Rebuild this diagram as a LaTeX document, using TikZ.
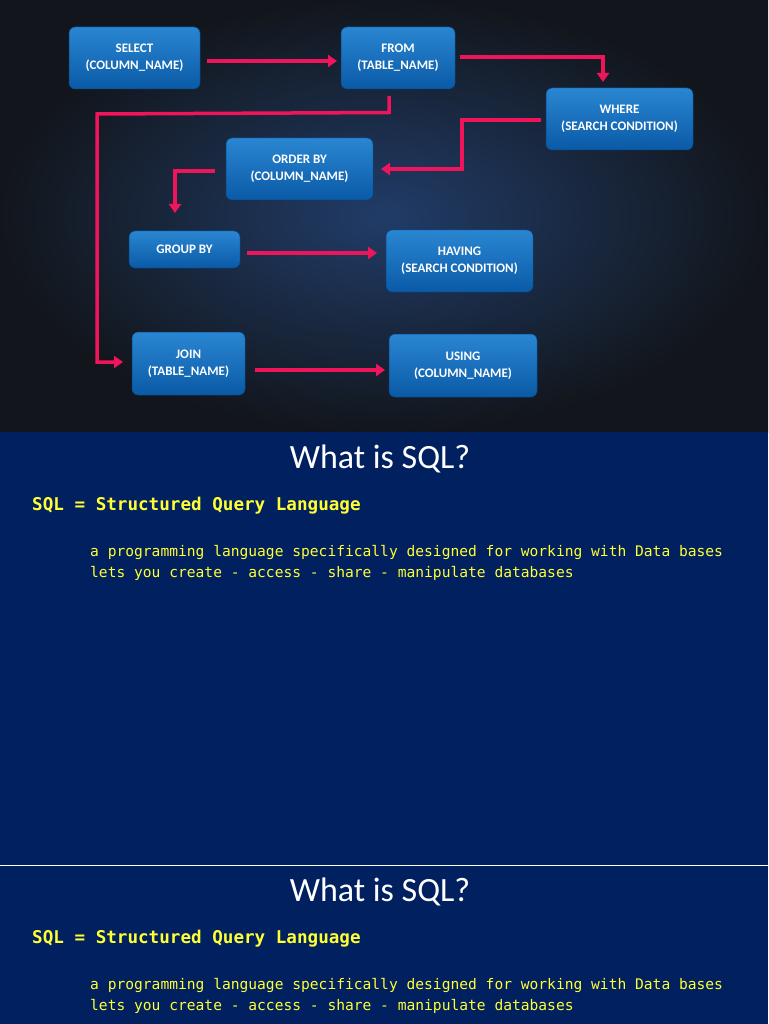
\documentclass[tikz,border=0pt]{standalone}
\usepackage{fontspec}
\setmainfont{Carlito}
\newfontfamily\monof{DejaVu Sans Mono}
\usetikzlibrary{arrows.meta}
\definecolor{pinkc}{HTML}{F0145A}
\definecolor{navy}{HTML}{002060}
\definecolor{boxtop}{HTML}{2A86D2}
\definecolor{boxbot}{HTML}{0A5AA6}
\definecolor{bgc}{HTML}{213C68}
\definecolor{bge}{HTML}{12161C}
\definecolor{ylw}{HTML}{FFFF33}
\tikzset{
  sqlbox/.style={rounded corners=6pt, top color=boxtop, bottom color=boxbot, draw=boxbot!80!black, line width=0.5pt},
  boxtxt/.style={text=white, font=\fontsize{13}{17}\selectfont\bfseries, align=center},
  conn/.style={draw=pinkc, line width=3.5pt, -{Triangle[length=9pt,width=12pt]}},
}
\begin{document}
\begin{tikzpicture}[x=1pt,y=-1pt]
\useasboundingbox (0,0) rectangle (768,1024);
\shade[inner color=bgc, outer color=bge] (0,0) rectangle (768,432);
\fill[navy] (0,432) rectangle (768,1024);
\draw[white, line width=1pt] (0,865.5) -- (768,865.5);
% boxes
\newcommand\mkbox[6]{\fill[sqlbox] (#2,#3) rectangle (#4,#5);
  \node[boxtxt] (#1) at ({(#2+#4)/2},{(#3+#5)/2}) {#6};}
\mkbox{sel}{69}{27}{200}{89}{SELECT\\(COLUMN\_NAME)}
\mkbox{from}{341}{27}{455}{89}{FROM\\(TABLE\_NAME)}
\mkbox{where}{546}{88}{693}{150}{WHERE\\(SEARCH CONDITION)}
\mkbox{ord}{226}{138}{373}{200}{ORDER BY\\(COLUMN\_NAME)}
\mkbox{grp}{129}{231}{240}{268}{GROUP BY}
\mkbox{hav}{386}{230}{533}{292}{HAVING\\(SEARCH CONDITION)}
\mkbox{join}{132}{332}{245}{395}{JOIN\\(TABLE\_NAME)}
\mkbox{using}{389}{334}{537}{397}{USING\\(COLUMN\_NAME)}
% connectors
\coordinate (a1) at (207,61); \coordinate (a2) at (337,61);
\draw[conn] (a1) -- (a2);
\coordinate (b1) at (460,57); \coordinate (b2) at (603,57); \coordinate (b3) at (603,82);
\draw[conn] (b1) -- (b2) -- (b3);
\coordinate (c1) at (389,96); \coordinate (c2) at (389,112.5); \coordinate (c3) at (97,114); \coordinate (c4) at (97,362); \coordinate (c5) at (123,362);
\draw[conn] (c1) -- (c2) -- (c3) -- (c4) -- (c5);
\coordinate (d1) at (541,120); \coordinate (d2) at (462,120); \coordinate (d3) at (462,169); \coordinate (d4) at (381,169);
\draw[conn] (d1) -- (d2) -- (d3) -- (d4);
\coordinate (e1) at (215,171); \coordinate (e2) at (175,171); \coordinate (e3) at (175,213);
\draw[conn] (e1) -- (e2) -- (e3);
\coordinate (f1) at (247,253); \coordinate (f2) at (377,253);
\draw[conn] (f1) -- (f2);
\coordinate (g1) at (255,370); \coordinate (g2) at (385,370);
\draw[conn] (g1) -- (g2);
% text panels
\foreach \y/\n in {0/p, 433/q}{
  \node[text=white, font=\fontsize{34}{36}\selectfont] (t\n) at (380,459+\y) {What is SQL?};
  \node[text=ylw, anchor=west, font=\monof\bfseries\fontsize{17.6}{20}\selectfont, inner sep=0] (h\n) at (32,506+\y) {SQL = Structured Query Language};
  \node[text=ylw, anchor=west, font=\monof\fontsize{14.6}{20}\selectfont, inner sep=0] (l\n) at (90,552+\y) {a programming language specifically designed for working with Data bases};
  \node[text=ylw, anchor=west, font=\monof\fontsize{14.6}{20}\selectfont, inner sep=0] (m\n) at (90,573+\y) {lets you create - access - share - manipulate databases};
}
\end{tikzpicture}
\end{document}
